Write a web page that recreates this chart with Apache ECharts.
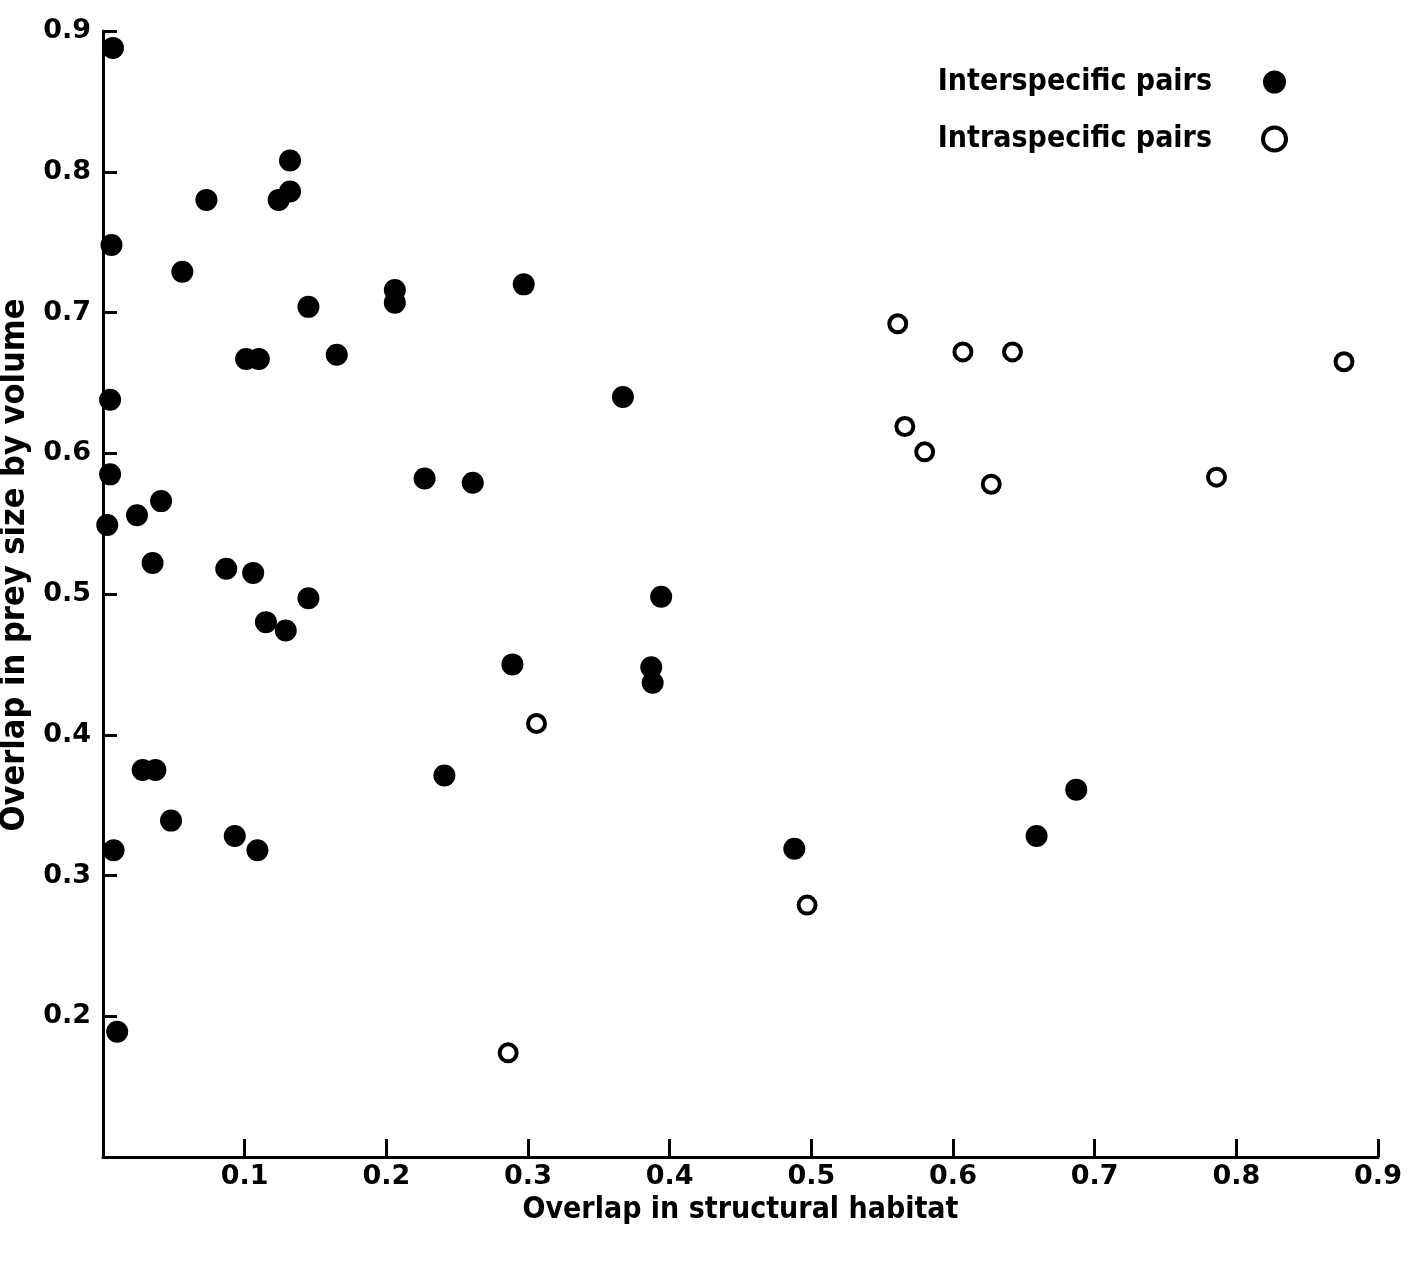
<!DOCTYPE html>
<html>
<head>
<meta charset="utf-8">
<script src="https://cdn.jsdelivr.net/npm/echarts@6/dist/echarts.min.js"></script>
<style>
html,body{margin:0;padding:0;background:#fff;}
#chart{width:1424px;height:1266px;}
</style>
</head>
<body>
<div id="chart"></div>
<script>
// Interspecific pairs (filled)
var interX = [0.007,0.006,0.073,0.056,0.132,0.132,0.124,0.145,0.206,0.206,0.101,0.110,0.165,0.005,0.005,0.003,0.024,0.041,0.035,0.087,0.106,0.145,0.115,0.129,0.227,0.261,0.297,0.367,0.394,0.289,0.387,0.388,0.241,0.028,0.037,0.048,0.093,0.109,0.0075,0.010,0.488,0.659,0.687];
var interY = [0.888,0.748,0.780,0.729,0.808,0.786,0.780,0.704,0.716,0.707,0.667,0.667,0.670,0.638,0.585,0.549,0.556,0.566,0.522,0.518,0.515,0.497,0.480,0.474,0.582,0.579,0.720,0.640,0.498,0.450,0.448,0.437,0.371,0.375,0.375,0.339,0.328,0.318,0.318,0.189,0.319,0.328,0.361];
// Intraspecific pairs (open)
var intraX = [0.561,0.607,0.642,0.566,0.580,0.627,0.786,0.876,0.306,0.497,0.286];
var intraY = [0.692,0.672,0.672,0.619,0.601,0.578,0.583,0.665,0.408,0.279,0.174];
var seriesNames = ['Interspecific pairs','Intraspecific pairs'];
var xTicks = [0,0.1,0.2,0.3,0.4,0.5,0.6,0.7,0.8,0.9];
var yTicks = [0.1,0.2,0.3,0.4,0.5,0.6,0.7,0.8,0.9];
var xTitle = 'Overlap in structural habitat';
var yTitle = 'Overlap in prey size by volume';

function zip(a,b){return a.map(function(v,i){return [v,b[i]];});}
var FONT = "'DejaVu Sans Condensed','Liberation Sans Narrow',sans-serif";
var TICKFONT = "'DejaVu Sans',sans-serif";

var chart = echarts.init(document.getElementById('chart'));
chart.setOption({
  animation:false,
  backgroundColor:'#fff',
  textStyle:{fontFamily:FONT,color:'#000'},
  grid:{left:103,right:46,top:31,bottom:109,containLabel:false,outerBoundsMode:'none'},
  legend:{
    orient:'vertical', right:131, top:62, align:'right', itemGap:27,
    itemWidth:23, itemHeight:23,
    textStyle:{fontFamily:FONT,fontSize:30,fontWeight:'bold',color:'#000',padding:[0,46,0,0]},
    data:[
      {name:seriesNames[0],icon:'circle',itemStyle:{color:'#000'}},
      {name:seriesNames[1],icon:'circle',itemStyle:{color:'#fff',borderColor:'#000',borderWidth:4}}
    ]
  },
  xAxis:{
    type:'value', min:xTicks[0], max:xTicks[xTicks.length-1], interval:0.1,
    name:xTitle, nameLocation:'middle', nameGap:34,
    nameTextStyle:{fontFamily:FONT,fontSize:30,fontWeight:'bold',color:'#000'},
    axisLine:{show:true,onZero:false,lineStyle:{color:'#000',width:3}},
    axisTick:{show:true,inside:true,length:18,lineStyle:{color:'#000',width:3}},
    splitLine:{show:false},
    axisLabel:{fontFamily:TICKFONT,fontSize:27,fontWeight:'bold',color:'#000',margin:6,
      formatter:function(v){return v<0.05?'':v.toFixed(1);}}
  },
  yAxis:{
    type:'value', min:yTicks[0], max:yTicks[yTicks.length-1], interval:0.1,
    name:yTitle, nameLocation:'middle', nameGap:66, nameRotate:90,
    nameTextStyle:{fontFamily:FONT,fontSize:34,fontWeight:'bold',color:'#000',padding:[0,0,0,58]},
    axisLine:{show:true,onZero:false,lineStyle:{color:'#000',width:3}},
    axisTick:{show:true,inside:true,length:14,lineStyle:{color:'#000',width:3}},
    splitLine:{show:false},
    axisLabel:{fontFamily:TICKFONT,fontSize:27,fontWeight:'bold',color:'#000',margin:12,
      formatter:function(v){return v<0.15?'':v.toFixed(1);}}
  },
  series:[
    {name:seriesNames[0],type:'scatter',symbol:'circle',symbolSize:22,
     itemStyle:{color:'#000',opacity:1},data:zip(interX,interY)},
    {name:seriesNames[1],type:'scatter',symbol:'circle',symbolSize:17,
     itemStyle:{color:'#fff',borderColor:'#000',borderWidth:4,opacity:1},data:zip(intraX,intraY)}
  ]
});
</script>
</body>
</html>
